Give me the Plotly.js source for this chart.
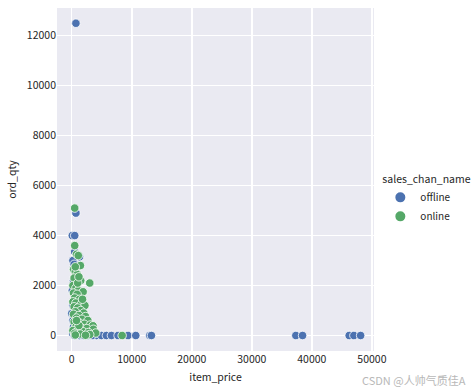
<!DOCTYPE html>
<html>
<head>
<meta charset="utf-8">
<script src="https://cdn.plot.ly/plotly-3.0.1.min.js"></script>
<style>html,body{margin:0;padding:0;background:#fff;}#chart{width:474px;height:390px;}</style>
</head>
<body>
<div id="chart"></div>
<script>
// offline (sales_chan_name = offline)
const offlinePrice = [700,100,500,700,500,1300,200,400,800,300,600,100,900,400,1300,200,700,780,0,400,1000,200,1500,600,300,1100,1800,400,1100,700,200,1600,2200,1330,2720,4110,4950,5780,6620,7720,9390,10670,13000,13280,37330,38450,46220,47000,48120,500,2000,3400];
const offlineQty   = [12500,4000,4000,4900,3350,3150,3000,2850,2700,2200,2050,1800,1600,1400,1300,1200,1150,1000,880,750,700,600,550,450,350,300,250,200,130,100,60,80,50,0,0,0,0,0,0,0,0,0,0,0,0,0,0,0,0,0,0,0];
// online
const onlinePrice = [500,500,800,1100,1450,300,600,900,400,1500,3000,200,700,1100,1900,300,900,500,1300,200,700,1600,2200,400,1000,1500,600,2000,300,1200,2300,800,1700,2700,400,1300,2100,3100,3550,700,1600,2500,3600,200,1000,1900,2800,4000,500,1400,3000,8400,600,2300,1200,800,1000,1800,600,1200];
const onlineQty   = [5100,3600,3250,3200,2800,2650,2550,2450,2300,2200,2100,2000,1900,1800,1750,1700,1650,1500,1450,1350,1300,1250,1200,1150,1100,1000,950,900,850,800,760,700,650,600,550,500,450,420,390,350,300,280,250,200,180,150,120,100,90,60,40,0,20,10,400,600,2100,1450,2750,2350];
const seriesNames = ["offline","online"];
const xTicks = [0,10000,20000,30000,40000,50000];
const yTicks = [0,2000,4000,6000,8000,10000,12000];

const FONT = '"Noto Sans CJK SC", "DejaVu Sans", sans-serif';
const mk = (c) => ({color: c, size: 8.5, line: {color: '#ffffff', width: 0.8}});

const traces = [
  {type:'scatter', mode:'markers', name: seriesNames[0], x: offlinePrice, y: offlineQty, marker: mk('#4C72B0')},
  {type:'scatter', mode:'markers', name: seriesNames[1], x: onlinePrice, y: onlineQty, marker: mk('#55A868')}
];

const axisCommon = {
  showgrid: true, gridcolor: '#ffffff', gridwidth: 1.5, zeroline: false,
  showline: false, ticks: '', tickfont: {family: FONT, size: 10.5, color: '#262626'},
  tickmode: 'array'
};

const layout = {
  width: 474, height: 390,
  margin: {l: 57, r: 100, t: 8, b: 39, pad: 0, autoexpand: false},
  paper_bgcolor: '#ffffff', plot_bgcolor: '#EAEAF2',
  font: {family: FONT, size: 10.5, color: '#262626'},
  xaxis: Object.assign({}, axisCommon, {
    range: [-2450, 50350], tickvals: xTicks, ticktext: xTicks.map(String),
    title: {text: 'item_price', font: {family: FONT, size: 10.5, color: '#262626'}, standoff: 9}
  }),
  yaxis: Object.assign({}, axisCommon, {
    range: [-620, 13110], tickvals: yTicks, ticktext: yTicks.map(String),
    title: {text: 'ord_qty', font: {family: FONT, size: 10.5, color: '#262626'}, standoff: 8}
  }),
  showlegend: true,
  legend: {
    x: 1.02, xanchor: 'left', y: 0.53, yanchor: 'top',
    bgcolor: 'rgba(0,0,0,0)', borderwidth: 0,
    title: {text: 'sales_chan_name', font: {family: FONT, size: 10.5, color: '#262626'}},
    font: {family: FONT, size: 10, color: '#262626'},
    itemsizing: 'constant', tracegroupgap: 0
  },
  annotations: [{
    xref: 'paper', yref: 'paper', x: (468-57)/317, y: -(380-351)/343,
    xanchor: 'right', yanchor: 'middle', showarrow: false,
    text: 'CSDN @人帅气质佳A', font: {family: FONT, size: 11, color: '#b8b8b8'}
  }]
};

Plotly.newPlot('chart', traces, layout, {displayModeBar: false, staticPlot: true});
</script>
</body>
</html>
